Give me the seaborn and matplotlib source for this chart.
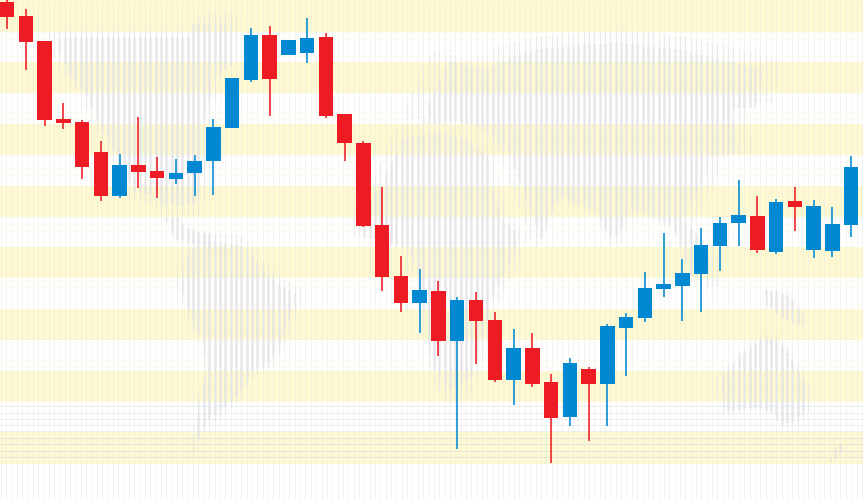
import numpy as np
import pandas as pd
import seaborn as sns
import matplotlib.pyplot as plt
from matplotlib.patches import Polygon

sns.set_theme(style="white")

# candles (scale runs downward like the image)
kind = ["r","r","r","r","r","r","b","r","r","b","b","b","b","b","r","b","b","r","r","r",
        "r","r","b","r","b","r","r","b","r","r","b","r","b","b","b","b","b","b","b","b",
        "r","b","r","b","b","b"]
body_top = [2.3,16,41.3,119.3,122.3,151.7,165.3,165.3,171,173.3,160.7,126.7,77.7,35.3,35.3,40.3,38.3,36.7,114,142.7,
            225.3,276,290.3,290.7,300,300,320,348,348,382,363,369,326,317,288.3,284.3,273.3,244.7,223,215.3,
            216,201.7,201.3,206.3,224,166.7]
body_bottom = [17,42,119.7,122.7,167,196,196.3,172,178.3,179,173,161.3,128,79.7,79,55.3,53,116,142.7,225.7,
               277.3,303,303,341,340.7,321.3,380,380.3,384.3,418.3,416.7,384,384,328,318.3,289,285.7,273.7,246,222.7,
               250,251.7,207,250.3,250.7,224.7]
high = [-2,9.3,41.3,102.7,120,140.7,153.7,117.3,157.3,159,155,119,77.7,28.3,25.7,40.3,18,32.7,114,140.7,
        186.7,255.7,269.3,281,297.3,292.3,312.3,329.3,332.7,374.3,358,367.3,324,312.7,272,233.3,259,227.7,217.3,180.3,
        196,199.3,187.3,200.3,206.7,156]
low = [28.7,69.7,125.7,128.7,179.3,201.3,198,187.7,198.3,184,196,194.7,128,82,116,55.3,62.7,118.3,160.7,227.3,
       290.7,311.7,332.7,355.7,448.7,364.3,381.7,405,386.7,462.7,425.7,441,425.7,376,321.7,296.7,320.7,311.7,271,245.7,
       252.7,254,231.3,257.7,257,236.7]

# yellow bands
band_top = [-1,61.7,124,185.7,247.3,309,370.7,432.3]
band_bottom = [31.5,92.7,154.8,216.7,277.8,339.5,401.7,463.5]

# map outlines behind the candles
north_america = [(48,32),(70,30),(130,30),(195,30),(197,14),(240,14),(241,62),(222,72),(216,100),(207,130),
                 (205,170),(207,195),(200,216),(165,216),(150,205),(130,200),(118,170),(95,130),(80,95),(60,70),(48,45)]
central_america = [(163,216),(178,216),(185,228),(217,236),(217,250),(175,240)]
south_america = [(178,262),(176,285),(190,325),(200,345),(205,370),(197,400),(190,455),(192,457),(205,430),(225,415),
                 (240,400),(255,375),(275,365),(285,345),(295,320),(303,300),(303,290),(285,280),(262,260),(257,250),
                 (240,235),(205,232),(185,240)]
africa = [(350,217),(375,175),(398,126),(440,120),(470,128),(495,150),(495,175),(508,215),(528,235),(522,255),
          (509,280),(499,300),(475,390),(449,407),(432,380),(428,363),(418,290),(405,250),(375,240),(352,235)]
eurasia = [(402,120),(415,85),(432,50),(472,60),(499,47),(532,37),(619,30),(685,37),(782,60),(772,103),(745,103),
           (755,153),(719,157),(719,173),(692,227),(718,255),(722,285),(700,290),(680,233),(650,218),(632,217),
           (620,245),(610,245),(595,217),(555,200),(535,250),(520,210),(505,170),(497,150),(470,126),(440,118)]
new_guinea = [(762,287),(790,295),(805,315),(805,327),(785,320),(765,305)]
australia = [(715,380),(735,355),(760,335),(775,333),(790,350),(800,365),(810,385),(810,410),(800,425),(780,430),
             (775,415),(755,410),(720,415)]
new_zealand = [(838,443),(845,446),(838,458),(829,463)]
continents = [north_america, central_america, south_america, africa, eurasia, new_guinea, australia, new_zealand]

# horizontal lines near the bottom
pale_lines = [406,413,419,425,431]
strong_lines = [438,444,450.5,457]

red = "#ED1C24"
blue = "#0089D2"

df = pd.DataFrame({"x": np.arange(46)*18.76+7, "kind": kind, "top": body_top, "bottom": body_bottom,
                   "high": high, "low": low})
df["height"] = df["bottom"]-df["top"]

fig, ax = plt.subplots(figsize=(8.63, 5), dpi=100)
fig.subplots_adjust(0, 0, 1, 1)

##Background
for t, b in zip(band_top, band_bottom):
    ax.axhspan(t, b, color="#FEF9D2", lw=0, zorder=0)

grid_x = np.arange(0.5, 863, 5.35)
grid_y = np.arange(0.5, 400, 6.2)
ax.vlines(grid_x, 0, 500, color="#E6E6E6", lw=0.5, alpha=0.6, zorder=1)
ax.hlines(grid_y, 0, 863, color="#F6F1BC", lw=0.4, alpha=0.4, zorder=1)
ax.hlines(pale_lines, 0, 863, color="#E6E8EA", lw=0.5, zorder=1)
ax.hlines(strong_lines, 0, 863, color="#DDE0D6", lw=0.55, zorder=1)

##Map stripes, thin at the outline and thicker further in
for outline in continents:
    pts = np.array(outline, dtype=float)
    mid = pts.mean(axis=0)
    for shrink, lw in ((1.0, 0.9), (0.9, 1.9)):
        patch = Polygon(mid+(pts-mid)*shrink, closed=True, transform=ax.transData, fc="none", ec="none")
        ax.add_patch(patch)
        stripes = ax.vlines(grid_x, 0, 500, color="#E0E0E6", lw=lw, alpha=0.55, zorder=2)
        stripes.set_clip_path(patch)

##Candles
ax.vlines(df["x"], df["high"], df["low"], colors=[red if k == "r" else blue for k in kind],
          lw=1.15, zorder=3)
for k, c in (("r", red), ("b", blue)):
    sub = df[df["kind"] == k]
    sns.barplot(x=sub["x"].values, y=sub["height"].values, bottom=sub["top"].values, ax=ax,
                native_scale=True, orient="x", color=c, saturation=1, width=0.773,
                errorbar=None, linewidth=0, zorder=4)

ax.set_xlim(0, 863)
ax.set_ylim(500, 0)
ax.axis("off")

fig.savefig("out.png", dpi=100, facecolor="white")
